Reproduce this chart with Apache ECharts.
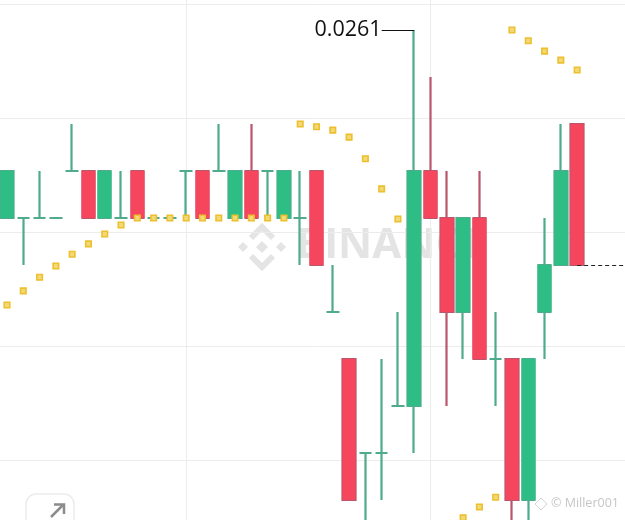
<!DOCTYPE html>
<html>
<head>
<meta charset="utf-8">
<style>html,body{margin:0;padding:0;background:#fff}#c{width:625px;height:520px}</style>
<script src="https://cdn.jsdelivr.net/npm/echarts@6/dist/echarts.min.js"></script>
</head>
<body>
<div id="c"></div>
<script>
var opens  = [.0257,.0257,.0257,.0257,.0258,.0258,.0257,.0257,.0258,.0257,.0257,.0258,.0258,.0258,.0257,.0258,.0258,.0257,.0257,.0258,.0255,.0254,.0252,.0252,.0253,.0253,.0258,.0257,.0255,.0257,.0254,.0254,.0251,.0255,.0256,.0259];
var closes = [.0258,.0257,.0257,.0257,.0258,.0257,.0258,.0257,.0257,.0257,.0257,.0258,.0257,.0258,.0258,.0257,.0258,.0258,.0257,.0256,.0255,.0251,.0252,.0252,.0253,.0258,.0257,.0255,.0257,.0254,.0254,.0251,.0254,.0256,.0258,.0256];
var lows   = [.0257,.0256,.0257,.0257,.0258,.0257,.0257,.0257,.0257,.0257,.0257,.0257,.0257,.0258,.0257,.0257,.0257,.0257,.0256,.0256,.0255,.0251,.0250,.0251,.0253,.0252,.0257,.0253,.0254,.0254,.0253,.0250,.0250,.0254,.0256,.0256];
var highs  = [.0258,.0257,.0258,.0257,.0259,.0258,.0258,.0258,.0258,.0257,.0257,.0258,.0258,.0259,.0258,.0259,.0258,.0258,.0258,.0258,.0256,.0254,.0252,.0254,.0255,.0261,.0260,.0258,.0257,.0258,.0255,.0254,.0254,.0257,.0259,.0259];
var sar = [.025515,.025545,.025574,.025598,.025623,.025645,.025666,.025685,.0257,.0257,.0257,.0257,.0257,.0257,.0257,.0257,.0257,.0257,.0259,.025894,.025887,.025872,.025826,.025762,.025698,null,null,null,.025062,.025085,.025106,.0261,.026077,.026055,.026036,.026015];
var categories = opens.map(function(_, i){ return String(i); }).concat(['a','b','c']);
var highLabel = '0.0261';
var lastPrice = 0.0256;
var priceMin = 0.02494255, priceMax = 0.02639787;
var gridLevels = 6;
var gridColumns = [11, 26];

var up = '#2ebd85', down = '#f6465d', upWick = '#4fab8b', downWick = '#b8566c';
var wickData = opens.map(function(o, i){ return [o, closes[i], lows[i], highs[i]]; });
var bodyData = opens.map(function(o, i){
  return [o, closes[i], Math.min(o, closes[i]), Math.max(o, closes[i])];
});
var chart = echarts.init(document.getElementById('c'), null, {renderer:'canvas'});
var wm = '#e4e4e4';
chart.setOption({
  animation:false,
  backgroundColor:'#fff',
  grid:{left:-1.145, top:-110, width:635.3, height:684, containLabel:false, outerBoundsMode:'none'},
  xAxis:{
    type:'category', data:categories, boundaryGap:true,
    axisLine:{show:false}, axisLabel:{show:false},
    axisTick:{show:false, alignWithLabel:true},
    splitLine:{show:true, alignWithLabel:true, lineStyle:{color:'#ececec',width:1},
      interval:function(i){ return gridColumns.indexOf(i) >= 0; }}
  },
  yAxis:[
    {type:'value', min:priceMin, max:priceMax, axisLine:{show:false}, axisTick:{show:false}, axisLabel:{show:false}, splitLine:{show:false}},
    {type:'value', min:0, max:gridLevels, interval:1, axisLine:{show:false}, axisTick:{show:false}, axisLabel:{show:false},
      splitLine:{show:true, lineStyle:{color:'#ececec',width:1}}}
  ],
  graphic:[
    {type:'text', z:-5, left:296, top:225, style:{text:'BINANCE', font:'bold 42px "Open Sans"', fill:wm}},
    {type:'polygon', z:-5, shape:{points:[[262,241],[268,247],[262,253],[256,247]]}, style:{fill:wm}},
    {type:'polygon', z:-5, shape:{points:[[243,242],[248,247],[243,252],[238,247]]}, style:{fill:wm}},
    {type:'polygon', z:-5, shape:{points:[[281,242],[286,247],[281,252],[276,247]]}, style:{fill:wm}},
    {type:'polyline', z:-5, shape:{points:[[251,238],[262,227],[273,238]]}, style:{stroke:wm, lineWidth:6, fill:null}},
    {type:'polyline', z:-5, shape:{points:[[251,256],[262,267],[273,256]]}, style:{stroke:wm, lineWidth:6, fill:null}},
    {type:'rect', z:5, shape:{x:26,y:494,width:48,height:50,r:10}, style:{fill:'#fff',stroke:'#ececec',lineWidth:1.5}},
    {type:'polyline', z:6, shape:{points:[[51,517],[63,505]]}, style:{stroke:'#8c8c8c',lineWidth:2.5,fill:null}},
    {type:'polyline', z:6, shape:{points:[[54,504.5],[64,504.5],[64,514]]}, style:{stroke:'#8c8c8c',lineWidth:2.5,fill:null}},
    {type:'polygon', z:6, shape:{points:[[541,498],[547,504],[541,510],[535,504]]}, style:{fill:'none',stroke:'#d4d4d4',lineWidth:1}},
    {type:'text', z:6, left:551, top:497, style:{text:'© Miller001', font:'12.5px "Open Sans"', fill:'#c6c6c6'}}
  ],
  series:[
    {
      type:'candlestick', xAxisIndex:0, yAxisIndex:0, barWidth:13, z:2,
      data:wickData,
      itemStyle:{color:upWick,color0:downWick,borderColor:upWick,borderColor0:downWick,borderColorDoji:upWick,borderWidth:2.2},
      markLine:{
        silent:true, symbol:'none', animation:false,
        data:[
          [{coord:['23',0.0261],lineStyle:{color:'#111',type:'solid',width:1.2},
            label:{show:true,position:'start',formatter:highLabel,fontFamily:'Open Sans',fontSize:21.5,color:'#111',distance:0}},
           {coord:['25',0.0261]}],
          [{coord:['35',lastPrice],lineStyle:{color:'#222',type:[4,3],width:1},label:{show:false}},
           {coord:['c',lastPrice]}]
        ]
      }
    },
    {
      type:'candlestick', xAxisIndex:0, yAxisIndex:0, barWidth:14, z:3,
      data:bodyData,
      itemStyle:{color:up,color0:down,borderColor:up,borderColor0:down,borderColorDoji:'transparent',borderWidth:0}
    },
    {
      type:'scatter', xAxisIndex:0, yAxisIndex:0, symbol:'rect', symbolSize:5.5, z:4,
      data:sar,
      itemStyle:{color:'#f3d976',borderColor:'#ecc02e',borderWidth:1.6,opacity:1}
    }
  ]
});
</script>
</body>
</html>
